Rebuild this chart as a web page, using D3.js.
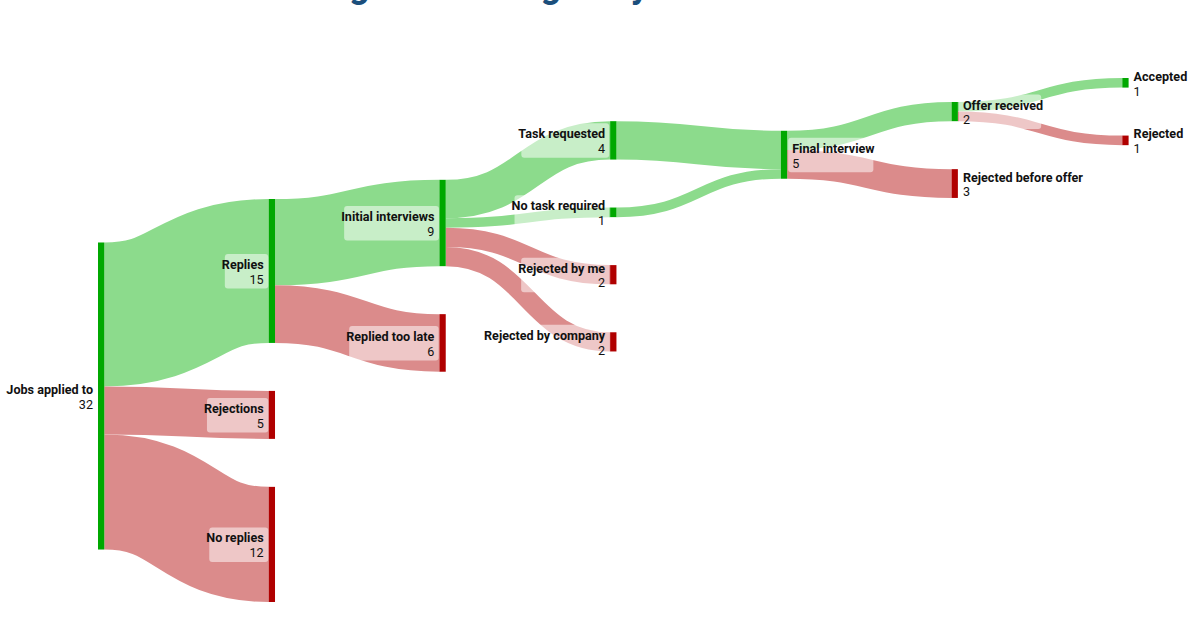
<!DOCTYPE html>
<html><head><meta charset="utf-8">
<script src="https://cdn.jsdelivr.net/npm/d3@7"></script>
<style>
body{margin:0;background:#fff;}
svg{display:block;font-family:Roboto,"Noto Sans",sans-serif;}
</style></head><body>
<svg id="chart" width="1200" height="630"></svg>
<script>
// ---------- data ----------
const titleText = "Looking for a change: my hunt for a new role";
const nodeNames = ["Jobs applied to","Replies","Rejections","No replies","Initial interviews","Replied too late",
  "Task requested","No task required","Rejected by me","Rejected by company","Final interview",
  "Offer received","Rejected before offer","Accepted","Rejected"];
const nodeOutcome = ["pos","pos","neg","neg","pos","neg","pos","pos","neg","neg","pos","pos","neg","pos","neg"];
const linkSources = ["Jobs applied to","Jobs applied to","Jobs applied to","Replies","Replies",
  "Initial interviews","Initial interviews","Initial interviews","Initial interviews",
  "Task requested","No task required","Final interview","Final interview","Offer received","Offer received"];
const linkTargets = ["Replies","Rejections","No replies","Initial interviews","Replied too late",
  "Task requested","No task required","Rejected by me","Rejected by company",
  "Final interview","Final interview","Offer received","Rejected before offer","Accepted","Rejected"];
const linkValues = [15,5,12,9,6,4,1,2,2,4,1,2,3,1,1];

// ---------- styles ----------
const nodeColor = {pos:"#00a800", neg:"#b00000"};
const linkColor = {pos:"#8cdb8c", neg:"#db8b8b"};
const W = 1200, H = 630;
const nodeWidth = 6.3, gapUnits = 5, labelGap = 5;

// ---------- layout ----------
const nodes = nodeNames.map((name,i)=>({name, index:i, outcome:nodeOutcome[i], sourceLinks:[], targetLinks:[]}));
const byName = new Map(nodes.map(n=>[n.name,n]));
const links = linkValues.map((v,i)=>({source:byName.get(linkSources[i]), target:byName.get(linkTargets[i]), value:v}));
links.forEach(l=>{l.source.sourceLinks.push(l); l.target.targetLinks.push(l);});
nodes.forEach(n=>{n.value = Math.max(d3.sum(n.sourceLinks,l=>l.value), d3.sum(n.targetLinks,l=>l.value));});
nodes.forEach(n=>n.depth=0);
let changed = true;
while(changed){changed=false; links.forEach(l=>{if(l.target.depth < l.source.depth+1){l.target.depth=l.source.depth+1; changed=true;}});}
const maxDepth = d3.max(nodes,n=>n.depth);
const columns = d3.range(maxDepth+1).map(d=>nodes.filter(n=>n.depth===d));
nodes.forEach(n=>n.sourceLinks.sort((a,b)=>a.target.index-b.target.index));

columns.forEach((col,d)=>{
  if(d===0){
    let yy=0; col.forEach(n=>{n.u0=yy; n.u1=yy+n.value; yy=n.u1+gapUnits;});
  } else {
    col.forEach(n=>{
      n.ideal = d3.sum(n.targetLinks,l=>l.value*l.centerU)/d3.sum(n.targetLinks,l=>l.value);
    });
    const blocks=[];
    col.forEach(n=>{
      let b={nodes:[n], off:[0]};
      b.pos = n.ideal;
      while(blocks.length){
        const a = blocks[blocks.length-1];
        const aLast = a.nodes[a.nodes.length-1];
        const aBottom = a.pos + a.off[a.off.length-1] + aLast.value/2;
        const bTop = b.pos - b.nodes[0].value/2;
        if(aBottom + gapUnits <= bTop) break;
        const shift = a.off[a.off.length-1] + aLast.value/2 + gapUnits + b.nodes[0].value/2;
        b.nodes.forEach((bn,j)=>{a.nodes.push(bn); a.off.push(b.off[j]+shift);});
        const Wt = d3.sum(a.nodes,x=>x.value);
        a.pos = d3.sum(a.nodes,(x,j)=>x.value*(x.ideal - a.off[j]))/Wt;
        blocks.pop(); b=a;
      }
      blocks.push(b);
    });
    blocks.forEach(b=>b.nodes.forEach((n,j)=>{const c=b.pos+b.off[j]; n.u0=c-n.value/2; n.u1=c+n.value/2;}));
  }
  col.forEach(n=>{let yy=n.u0; n.sourceLinks.forEach(l=>{l.su0=yy; yy+=l.value; l.centerU=(l.su0+yy)/2;});});
});
nodes.forEach(n=>{
  n.targetLinks.sort((a,b)=>a.source.u0-b.source.u0);
  let yy=n.u0; n.targetLinks.forEach(l=>{l.tu0=yy; yy+=l.value;});
});

// ---------- scales ----------
const y = d3.scaleLinear().domain([d3.min(nodes,n=>n.u0), d3.max(nodes,n=>n.u1)]).range([78,602]);
const x = d3.scaleLinear().domain([0,maxDepth]).range([98,1122.3]);
const ky = y(1)-y(0);
nodes.forEach(n=>{n.x0=x(n.depth); n.x1=n.x0+nodeWidth; n.y0=y(n.u0); n.y1=y(n.u1); n.cy=(n.y0+n.y1)/2;});

// ---------- draw ----------
const svg = d3.select("#chart");
svg.append("text").attr("x",600).attr("y",-3.5).attr("text-anchor","middle")
  .attr("font-size",36).attr("font-weight",700).attr("fill","#1b4f7c").text(titleText);

const linkGen = d3.linkHorizontal()
  .source(l=>[l.source.x1, y(l.su0+l.value/2)])
  .target(l=>[l.target.x0, y(l.tu0+l.value/2)]);
svg.append("g").attr("fill","none").selectAll("path").data(links).join("path")
  .attr("d",linkGen).attr("stroke",l=>linkColor[l.target.outcome])
  .attr("stroke-width",l=>l.value*ky);

svg.append("g").selectAll("rect").data(nodes).join("rect")
  .attr("x",n=>n.x0).attr("y",n=>n.y0).attr("width",nodeWidth).attr("height",n=>n.y1-n.y0)
  .attr("fill",n=>nodeColor[n.outcome]);

const labels = svg.append("g").selectAll("g").data(nodes).join("g");
const boxes = labels.append("rect").attr("fill","#fff").attr("fill-opacity",0.52).attr("rx",3);
const texts = labels.append("text").attr("font-size",12.6).attr("fill","#111")
  .attr("text-anchor",n=>n.depth<=maxDepth/2?"end":"start");
texts.append("tspan").attr("font-weight",700)
  .attr("x",n=>n.depth<=maxDepth/2? n.x0-labelGap : n.x1+labelGap).attr("y",n=>n.cy-2).text(n=>n.name);
texts.append("tspan")
  .attr("x",n=>n.depth<=maxDepth/2? n.x0-labelGap : n.x1+labelGap).attr("y",n=>n.cy+12.8).text(n=>n.value);
labels.each(function(n){
  const bb = d3.select(this).select("text").node().getBBox();
  const left = n.depth<=maxDepth/2;
  const bx = left ? bb.x+3 : bb.x-4;
  const bw = left ? bb.width+1 : bb.width+2;
  d3.select(this).select("rect").attr("x",bx).attr("y",n.cy-17).attr("width",bw).attr("height",34.5);
});
</script>
</body></html>
